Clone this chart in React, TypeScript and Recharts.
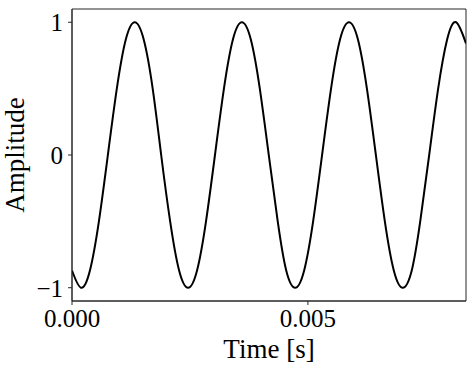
import { LineChart, Line, XAxis, YAxis, ReferenceArea } from "recharts";

// sample times in seconds (troughs, peaks and in-between points)
const times = [
  0.0, 0.00019, 0.00038, 0.00057, 0.00076, 0.00095, 0.00114, 0.00133, 0.00152, 0.00171,
  0.00189, 0.00208, 0.00227, 0.00246, 0.00265, 0.00284, 0.00303, 0.00322, 0.00341, 0.0036,
  0.00379, 0.00398, 0.00417, 0.00436, 0.00454, 0.00473, 0.00492, 0.00511, 0.0053, 0.00549,
  0.00568, 0.00587, 0.00606, 0.00625, 0.00644, 0.00663, 0.00682, 0.00701, 0.0072, 0.00738,
  0.00757, 0.00776, 0.00795, 0.00814, 0.00835,
];

const amplitudes = [
  -0.87, -1, -0.87, -0.5, 0, 0.5, 0.87, 1, 0.87, 0.5,
  0, -0.5, -0.87, -1, -0.87, -0.5, 0, 0.5, 0.87, 1,
  0.87, 0.5, 0, -0.5, -0.87, -1, -0.87, -0.5, 0, 0.5,
  0.87, 1, 0.87, 0.5, 0, -0.5, -0.87, -1, -0.87, -0.5,
  0, 0.5, 0.87, 1, 0.84,
];

const xTicks = [0, 0.005];
const yTicks = [-1, 0, 1];
const xDomain = [0, 0.00835];
const yDomain = [-1.1, 1.1];

const data = times.map((t, i) => ({ t, amp: amplitudes[i] }));

const FONT = "'Liberation Serif', 'Times New Roman', serif";
const AXIS = "#262626";

function XLabel({ viewBox }: any) {
  return (
    <text
      x={viewBox.x + viewBox.width / 2}
      y={viewBox.y + 57}
      textAnchor="middle"
      fontFamily={FONT}
      fontSize={27}
      fill="#000"
    >
      Time [s]
    </text>
  );
}

function YLabel({ viewBox }: any) {
  const x = viewBox.x + 15;
  const y = viewBox.y + viewBox.height / 2;
  return (
    <text
      x={x}
      y={y}
      transform={`rotate(-90, ${x}, ${y})`}
      textAnchor="middle"
      dominantBaseline="central"
      fontFamily={FONT}
      fontSize={27}
      fill="#000"
    >
      Amplitude
    </text>
  );
}

export default function App() {
  return (
    <div style={{ position: "absolute", left: 0, top: 0, background: "#fff" }}>
      <LineChart width={474} height={369} data={data} margin={{ top: 9, right: 8, left: 0, bottom: 0 }}>
        <XAxis
          dataKey="t"
          type="number"
          domain={xDomain}
          ticks={xTicks}
          tickFormatter={(v: number) => v.toFixed(3)}
          height={68}
          tickSize={4}
          tickMargin={4}
          stroke={AXIS}
          tick={{ fill: "#000", fontSize: 25, fontFamily: FONT }}
          label={<XLabel />}
          allowDataOverflow
        />
        <YAxis
          type="number"
          domain={yDomain}
          ticks={yTicks}
          tickFormatter={(v: number) => (v < 0 ? "\u2212" + Math.abs(v) : String(v))}
          width={72}
          tickSize={4}
          tickMargin={5}
          stroke={AXIS}
          tick={{ fill: "#000", fontSize: 25, fontFamily: FONT }}
          label={<YLabel />}
          allowDataOverflow
        />
        <ReferenceArea
          x1={xDomain[0]}
          x2={xDomain[1]}
          y1={yDomain[0]}
          y2={yDomain[1]}
          fill="none"
          stroke={AXIS}
          strokeWidth={1}
          ifOverflow="extendDomain"
        />
        <Line
          type="natural"
          dataKey="amp"
          stroke="#000"
          strokeWidth={2}
          dot={false}
          isAnimationActive={false}
        />
      </LineChart>
    </div>
  );
}
